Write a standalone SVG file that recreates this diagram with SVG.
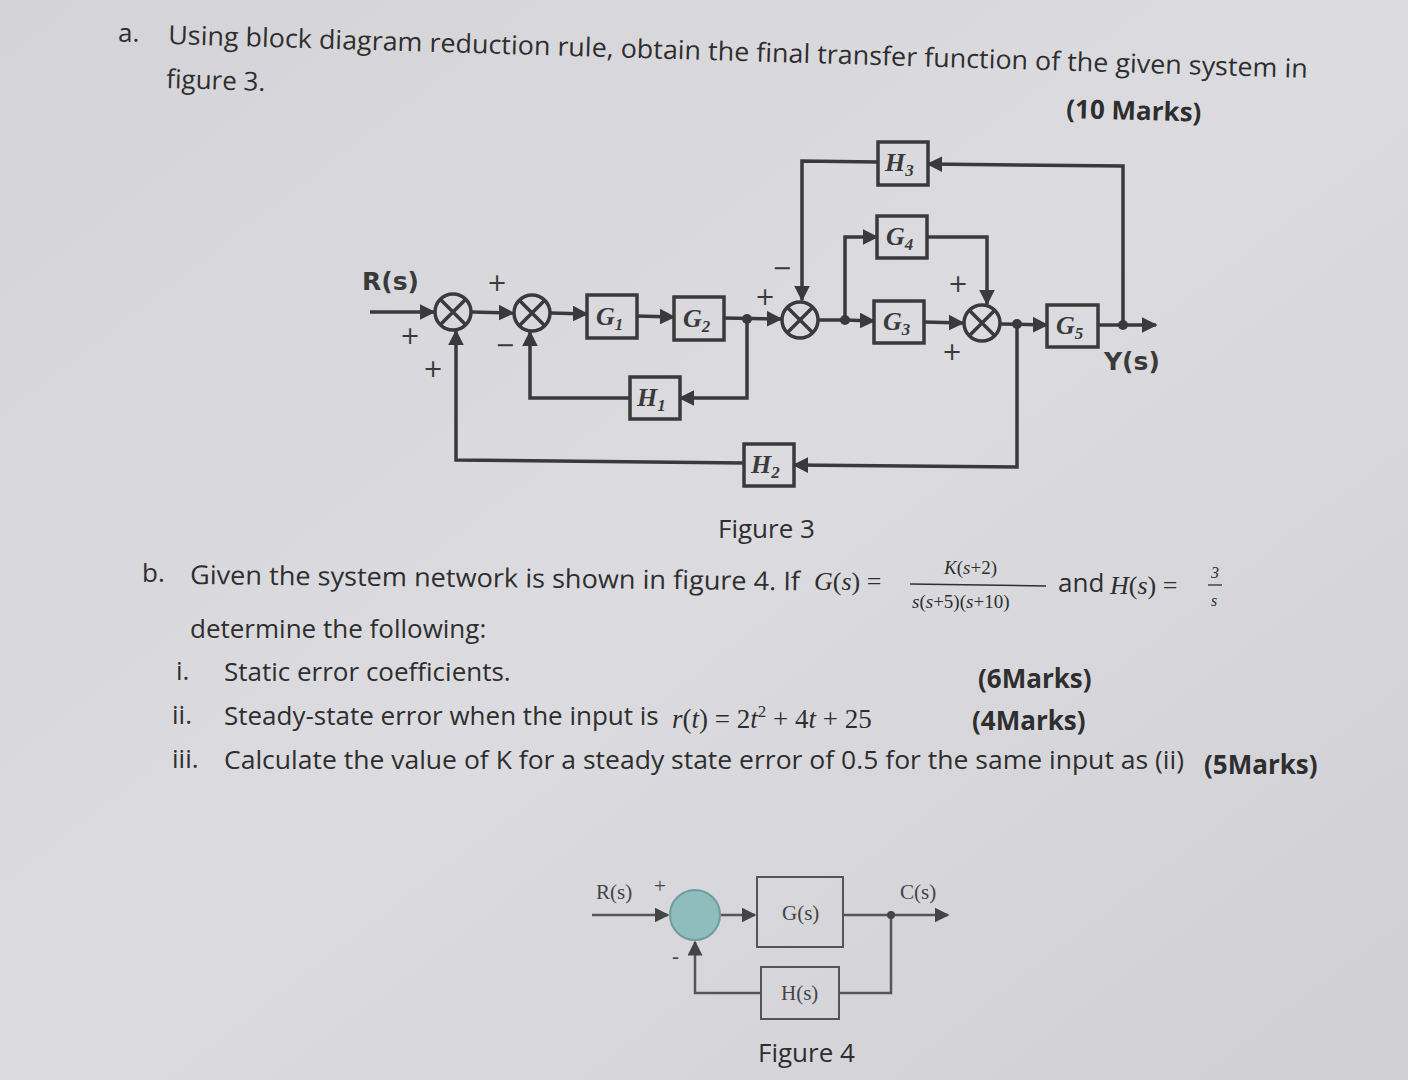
<svg xmlns="http://www.w3.org/2000/svg" width="1408" height="1080" viewBox="0 0 1408 1080">
<defs>
<linearGradient id="bg" x1="0" y1="0" x2="1" y2="1"><stop offset="0" stop-color="#d4d4d8"/><stop offset="0.5" stop-color="#dcdce0"/><stop offset="1" stop-color="#d0d0d4"/></linearGradient>
<marker id="ah" viewBox="0 0 10 10" refX="9" refY="5" markerWidth="4.5" markerHeight="4.5" orient="auto" markerUnits="strokeWidth"><path d="M0,0 L10,5 L0,10 z" fill="#3a3a3a"/></marker>
<marker id="ah2" viewBox="0 0 10 10" refX="9" refY="5" markerWidth="6" markerHeight="6" orient="auto" markerUnits="strokeWidth"><path d="M0,0 L10,5 L0,10 z" fill="#444"/></marker>
</defs>
<style>
.t{font-family:"Open Sans","Liberation Sans",sans-serif;fill:#2e2e2e;font-size:26px}
.b{font-weight:bold}
.m{font-family:"Liberation Serif",serif;font-style:italic;fill:#2e2e2e}
.blk{fill:none;stroke:#3a3a3a;stroke-width:3.5}
.ln{fill:none;stroke:#3a3a3a;stroke-width:3.5}
.gl{font-family:"Liberation Serif",serif;font-style:italic;font-weight:bold;fill:#3a3a3a;font-size:26px}
.sub{font-size:17px}
.sg{font-family:"DejaVu Sans",sans-serif;fill:#3a3a3a;font-size:24px}
.lb{font-family:"DejaVu Sans",sans-serif;font-weight:bold;fill:#3a3a3a;font-size:25px}
.f4{font-family:"Liberation Serif",serif;fill:#444;font-size:21px}
.l4{fill:none;stroke:#555;stroke-width:2.5}
</style>
<rect width="1408" height="1080" fill="url(#bg)"/>

<g id="texts">
<text class="t" x="118" y="42">a.</text>
<text class="t" x="168" y="44" transform="rotate(1.7 168 44)" textLength="1140" lengthAdjust="spacingAndGlyphs">Using block diagram reduction rule, obtain the final transfer function of the given system in</text>
<text class="t" x="166" y="88" transform="rotate(1.7 166 88)">figure 3.</text>
<text class="t b" x="1066" y="118" transform="rotate(1.5 1066 118)">(10 Marks)</text>
<text class="t" x="718" y="538">Figure 3</text>
<text class="t" x="142" y="582">b.</text>
<text class="t" x="190" y="584" transform="rotate(0.6 190 584)" textLength="610" lengthAdjust="spacingAndGlyphs">Given the system network is shown in figure 4. If</text>
<text class="m" x="814" y="590" font-size="26"><tspan>G</tspan><tspan font-style="normal">(</tspan>s<tspan font-style="normal">) =</tspan></text>
<text class="m" x="944" y="574" font-size="19">K<tspan font-style="normal">(</tspan>s<tspan font-style="normal">+2)</tspan></text>
<line x1="910" y1="584" x2="1046" y2="586" stroke="#2e2e2e" stroke-width="1.5"/>
<text class="m" x="912" y="608" font-size="19">s<tspan font-style="normal">(</tspan>s<tspan font-style="normal">+5)(</tspan>s<tspan font-style="normal">+10)</tspan></text>
<text class="t" x="1058" y="592">and</text>
<text class="m" x="1110" y="594" font-size="26">H<tspan font-style="normal">(</tspan>s<tspan font-style="normal">) =</tspan></text>
<text class="m" x="1211" y="578" font-size="16" font-style="normal">3</text>
<line x1="1208" y1="585" x2="1222" y2="585" stroke="#2e2e2e" stroke-width="1.3"/>
<text class="m" x="1211" y="606" font-size="16">s</text>
<text class="t" x="190" y="638">determine the following:</text>
<text class="t" x="176" y="680">i.</text>
<text class="t" x="224" y="681">Static error coefficients.</text>
<text class="t b" x="978" y="688">(6Marks)</text>
<text class="t" x="172" y="724">ii.</text>
<text class="t" x="224" y="725">Steady-state error when the input is</text>
<text class="m" x="672" y="728" font-size="27">r<tspan font-style="normal">(</tspan>t<tspan font-style="normal">) = 2</tspan>t<tspan font-style="normal" font-size="17" dy="-11">2</tspan><tspan font-style="normal" dy="11"> + 4</tspan>t<tspan font-style="normal"> + 25</tspan></text>
<text class="t b" x="972" y="730">(4Marks)</text>
<text class="t" x="172" y="768">iii.</text>
<text class="t" x="224" y="769" textLength="960" lengthAdjust="spacingAndGlyphs">Calculate the value of K for a steady state error of 0.5 for the same input as (ii)</text>
<text class="t b" x="1204" y="774">(5Marks)</text>
<text class="t" x="758" y="1062">Figure 4</text>
</g>

<g id="connectors">
<line class="ln" x1="370" y1="312" x2="434" y2="312" marker-end="url(#ah)"/>
<line class="ln" x1="472" y1="312" x2="513" y2="313" marker-end="url(#ah)"/>
<line class="ln" x1="551" y1="313" x2="587" y2="314" marker-end="url(#ah)"/>
<line class="ln" x1="637" y1="316" x2="674" y2="317" marker-end="url(#ah)"/>
<line class="ln" x1="724" y1="318" x2="781" y2="319" marker-end="url(#ah)"/>
<polyline class="ln" points="747,319 747,398 680,398" marker-end="url(#ah)"/>
<polyline class="ln" points="630,398 530,398 530,332" marker-end="url(#ah)"/>
<polyline class="ln" points="819,320 845,320 874,321" marker-end="url(#ah)"/>
<polyline class="ln" points="845,320 845,237 877,237" marker-end="url(#ah)"/>
<polyline class="ln" points="927,237 987,237 987,304" marker-end="url(#ah)"/>
<line class="ln" x1="924" y1="322" x2="963" y2="323" marker-end="url(#ah)"/>
<line class="ln" x1="1001" y1="324" x2="1047" y2="325" marker-end="url(#ah)"/>
<line class="ln" x1="1098" y1="325" x2="1156" y2="325" marker-end="url(#ah)"/>
<polyline class="ln" points="1123,325 1123,166 928,164" marker-end="url(#ah)"/>
<polyline class="ln" points="878,162 802,161 802,300" marker-end="url(#ah)"/>
<polyline class="ln" points="1017,324 1017,467 794,465" marker-end="url(#ah)"/>
<polyline class="ln" points="744,463 456,460 456,331" marker-end="url(#ah)"/>
<circle cx="747" cy="319" r="5" fill="#3a3a3a"/>
<circle cx="845" cy="320" r="5" fill="#3a3a3a"/>
<circle cx="1017" cy="324" r="5" fill="#3a3a3a"/>
<circle cx="1123" cy="325" r="5" fill="#3a3a3a"/>
<!-- fig 4 -->
<line class="l4" x1="592" y1="915" x2="668" y2="915" marker-end="url(#ah2)"/>
<line class="l4" x1="720" y1="915" x2="755" y2="915" marker-end="url(#ah2)"/>
<line class="l4" x1="843" y1="915" x2="948" y2="915" marker-end="url(#ah2)"/>
<polyline class="l4" points="891,915 891,993 839,993"/>
<polyline class="l4" points="761,993 695,993 695,942" marker-end="url(#ah2)"/>
<circle cx="891" cy="915" r="4" fill="#444"/>
</g>

<g id="sum1"><circle class="blk" cx="453" cy="312" r="18"/><path class="ln" d="M440,299 L466,325 M466,299 L440,325" stroke-width="2.5"/></g>
<g id="sum2"><circle class="blk" cx="532" cy="313" r="18"/><path class="ln" d="M519,300 L545,326 M545,300 L519,326" stroke-width="2.5"/></g>
<g id="sum3"><circle class="blk" cx="800" cy="320" r="18"/><path class="ln" d="M787,307 L813,333 M813,307 L787,333" stroke-width="2.5"/></g>
<g id="sum4"><circle class="blk" cx="982" cy="323" r="18"/><path class="ln" d="M969,310 L995,336 M995,310 L969,336" stroke-width="2.5"/></g>

<g id="G1"><rect class="blk" x="587" y="295" width="50" height="43" fill="#dcdce0"/><text class="gl" x="596" y="325">G<tspan class="sub" dy="5">1</tspan></text></g>
<g id="G2"><rect class="blk" x="674" y="297" width="50" height="43" fill="#dcdce0"/><text class="gl" x="683" y="327">G<tspan class="sub" dy="5">2</tspan></text></g>
<g id="G3"><rect class="blk" x="874" y="301" width="50" height="42" fill="#dcdce0"/><text class="gl" x="883" y="330">G<tspan class="sub" dy="5">3</tspan></text></g>
<g id="G4"><rect class="blk" x="877" y="216" width="50" height="42" fill="#dcdce0"/><text class="gl" x="886" y="245">G<tspan class="sub" dy="5">4</tspan></text></g>
<g id="G5"><rect class="blk" x="1047" y="305" width="51" height="42" fill="#dcdce0"/><text class="gl" x="1056" y="334">G<tspan class="sub" dy="5">5</tspan></text></g>
<g id="H1"><rect class="blk" x="630" y="377" width="50" height="42" fill="#dcdce0"/><text class="gl" x="637" y="406">H<tspan class="sub" dy="5">1</tspan></text></g>
<g id="H2"><rect class="blk" x="744" y="444" width="50" height="42" fill="#dcdce0"/><text class="gl" x="751" y="473">H<tspan class="sub" dy="5">2</tspan></text></g>
<g id="H3"><rect class="blk" x="878" y="142" width="50" height="43" fill="#dcdce0"/><text class="gl" x="885" y="171">H<tspan class="sub" dy="5">3</tspan></text></g>

<g id="signs">
<text class="lb" x="362" y="290">R(s)</text>
<text class="lb" x="1104" y="370">Y(s)</text>
<text class="sg" x="400" y="344">+</text>
<text class="sg" x="423" y="377">+</text>
<text class="sg" x="487" y="291">+</text>
<text class="sg" x="495" y="353">−</text>
<text class="sg" x="755" y="305">+</text>
<text class="sg" x="772" y="276">−</text>
<text class="sg" x="948" y="292">+</text>
<text class="sg" x="942" y="360">+</text>
</g>

<g id="fig4">
<circle cx="695" cy="915" r="25" fill="#8fbcbc" stroke="#6f9c9c" stroke-width="2"/>
<rect x="757" y="877" width="86" height="70" fill="none" stroke="#555" stroke-width="2"/>
<text class="f4" x="782" y="920">G(s)</text>
<rect x="761" y="967" width="78" height="52" fill="none" stroke="#555" stroke-width="2"/>
<text class="f4" x="781" y="1000">H(s)</text>
<text class="f4" x="596" y="899">R(s)</text>
<text class="f4" x="900" y="899">C(s)</text>
<text class="f4" x="654" y="893" font-size="18">+</text>
<text class="f4" x="672" y="963" font-size="18">-</text>
</g>
</svg>
